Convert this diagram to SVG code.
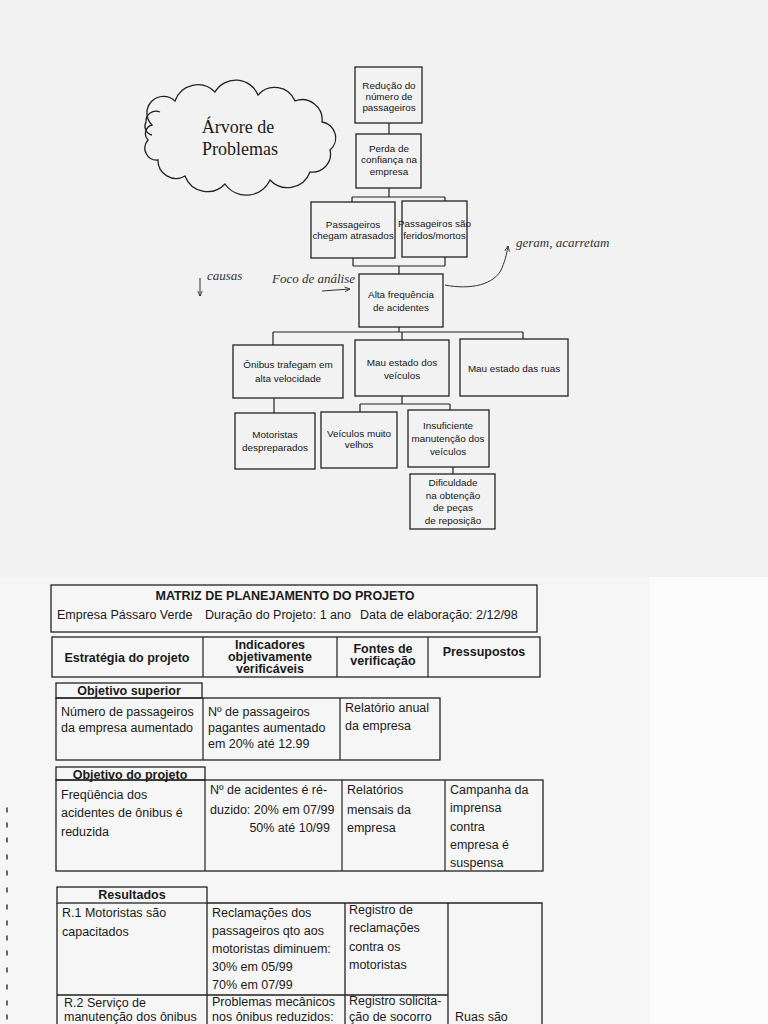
<svg xmlns="http://www.w3.org/2000/svg" width="768" height="1024" viewBox="0 0 768 1024">
<style>
.bx{fill:none;stroke:#222;stroke-width:1.3}
.ln{fill:none;stroke:#222;stroke-width:1.2}
.t{font-family:"Liberation Sans",Arial,sans-serif;font-size:9.9px;fill:#161616;text-anchor:middle}
.tb{font-family:"Liberation Sans",Arial,sans-serif;font-size:12.5px;fill:#1a1a1a}
.hb{font-family:"Liberation Sans",Arial,sans-serif;font-size:12.5px;font-weight:bold;fill:#1a1a1a;text-anchor:middle}
.hw{font-family:"Liberation Serif","DejaVu Serif",serif;font-style:italic;font-size:13px;fill:#333}
.hwl{fill:none;stroke:#333;stroke-width:1}
.cl{font-family:"Liberation Serif","Times New Roman",serif;font-size:18px;fill:#1a1a1a;text-anchor:middle}
</style>
<defs>
<marker id="ah" viewBox="0 0 10 10" refX="9" refY="5" markerWidth="6" markerHeight="6" orient="auto-start-reverse">
<path d="M0,1 L9,5 L0,9" fill="none" stroke="#333" stroke-width="1.5"/>
</marker>
</defs>
<rect x="0" y="0" width="768" height="1024" fill="#f2f2f2"/>
<rect x="0" y="577" width="768" height="447" fill="#f6f6f6"/>
<rect x="650" y="577" width="118" height="447" fill="#fbfbfb"/>

<!-- cloud -->
<g id="cloud">
<path class="bx" d="M152,125 A16,16 0 0 1 175,101 A24,24 0 0 1 215,92 A24,24 0 0 1 258,95 A22,22 0 0 1 295,101 A20,20 0 0 1 322,122 A16,16 0 0 1 330,150 A18,18 0 0 1 310,172 A24,24 0 0 1 270,180 A26,26 0 0 1 225,184 A24,24 0 0 1 185,176 A18,18 0 0 1 158,160 A12,12 0 0 1 148,140 A9,9 0 0 1 152,125 Z"/>
<path class="bx" d="M160,112 A10,10 0 0 0 146,122 A9,9 0 0 0 152,135"/>
<text class="cl" x="238" y="133">Árvore de</text>
<text class="cl" x="240" y="155">Problemas</text>
</g>

<!-- connectors -->
<g id="connectors">
<path class="ln" d="M389,123 V134"/>
<path class="ln" d="M389,188 V197 M352,197 H445 M352,197 V202 M445,197 V201"/>
<path class="ln" d="M353,258 V266 M445,257 V266 M353,266 H445 M399,266 V274"/>
<path class="ln" d="M399,327 V332 M273,332 H523 M273,332 V345 M402,332 V340 M523,332 V339"/>
<path class="ln" d="M274,398 V413"/>
<path class="ln" d="M402,396 V404 M360,404 H450 M360,404 V412 M450,404 V410"/>
<path class="ln" d="M453,467 V474"/>
</g>

<g id="n1"><rect class="bx" x="355" y="67" width="67" height="56"/>
<text class="t" x="389" y="89">Redução do</text><text class="t" x="389" y="100">número de</text><text class="t" x="389" y="111">passageiros</text></g>
<g id="n2"><rect class="bx" x="356" y="134" width="65" height="54"/>
<text class="t" x="389" y="152">Perda de</text><text class="t" x="389" y="163">confiança na</text><text class="t" x="389" y="175">empresa</text></g>
<g id="n3"><rect class="bx" x="311" y="202" width="84" height="56"/>
<text class="t" x="353" y="228">Passageiros</text><text class="t" x="353" y="239">chegam atrasados</text></g>
<g id="n4"><rect class="bx" x="402" y="201" width="65" height="56"/>
<text class="t" x="434.5" y="227">Passageiros são</text><text class="t" x="434.5" y="239">feridos/mortos</text></g>
<g id="n5"><rect class="bx" x="359" y="274" width="84" height="53"/>
<text class="t" x="401" y="298">Alta frequência</text><text class="t" x="401" y="311">de acidentes</text></g>
<g id="n6"><rect class="bx" x="233" y="345" width="110" height="53"/>
<text class="t" x="288" y="368">Ônibus trafegam em</text><text class="t" x="288" y="382">alta velocidade</text></g>
<g id="n7"><rect class="bx" x="355" y="340" width="94" height="56"/>
<text class="t" x="402" y="366">Mau estado dos</text><text class="t" x="402" y="379">veículos</text></g>
<g id="n8"><rect class="bx" x="460" y="339" width="108" height="57"/>
<text class="t" x="514" y="372">Mau estado das ruas</text></g>
<g id="n9"><rect class="bx" x="235" y="413" width="80" height="56"/>
<text class="t" x="275" y="438">Motoristas</text><text class="t" x="275" y="451">despreparados</text></g>
<g id="n10"><rect class="bx" x="321" y="412" width="76" height="56"/>
<text class="t" x="359" y="437">Veículos muito</text><text class="t" x="359" y="448">velhos</text></g>
<g id="n11"><rect class="bx" x="408" y="410" width="81" height="57"/>
<text class="t" x="448" y="429">Insuficiente</text><text class="t" x="448" y="442">manutenção dos</text><text class="t" x="448" y="455">veículos</text></g>
<g id="n12"><rect class="bx" x="410" y="474" width="85" height="55"/>
<text class="t" x="453" y="486">Dificuldade</text><text class="t" x="453" y="499">na obtenção</text><text class="t" x="453" y="511">de peças</text><text class="t" x="453" y="524">de reposição</text></g>

<!-- handwritten notes -->
<g id="notes">
<path class="hwl" d="M200,278 V296" marker-end="url(#ah)"/>
<text class="hw" x="207" y="280">causas</text>
<text class="hw" x="272" y="283">Foco de análise</text>
<path class="hwl" d="M322,291 L350,289" marker-end="url(#ah)"/>
<path class="hwl" d="M445,285 C470,290 495,285 502,268 C506,258 507,252 508,246" marker-end="url(#ah)"/>
<text class="hw" x="516" y="247">geram, acarretam</text>
</g>

<!-- matrix -->
<g id="title">
<rect class="bx" x="51" y="585" width="486" height="47"/>
<text class="hb" x="285" y="600">MATRIZ DE PLANEJAMENTO DO PROJETO</text>
<text class="tb" x="57" y="619">Empresa Pássaro Verde</text>
<text class="tb" x="205" y="619">Duração do Projeto: 1 ano</text>
<text class="tb" x="360" y="619">Data de elaboração: 2/12/98</text>
</g>
<g id="header">
<rect class="bx" x="52" y="637" width="488" height="40"/>
<path class="ln" d="M203,637 V677 M337,637 V677 M428,637 V677"/>
<text class="hb" x="127" y="662">Estratégia do projeto</text>
<text class="hb" x="270" y="649">Indicadores</text>
<text class="hb" x="270" y="661">objetivamente</text>
<text class="hb" x="270" y="673">verificáveis</text>
<text class="hb" x="383" y="653">Fontes de</text>
<text class="hb" x="383" y="665">verificação</text>
<text class="hb" x="484" y="656">Pressupostos</text>
</g>
<g id="objsup">
<rect class="bx" x="56" y="683" width="146" height="15"/>
<text class="hb" x="129" y="695">Objetivo superior</text>
<rect class="bx" x="56" y="698" width="384" height="62"/>
<path class="ln" d="M203,698 V760 M340,698 V760"/>
<text class="tb" x="61" y="716">Número de passageiros</text>
<text class="tb" x="61" y="732">da empresa aumentado</text>
<text class="tb" x="208" y="716">Nº de passageiros</text>
<text class="tb" x="208" y="732">pagantes aumentado</text>
<text class="tb" x="208" y="748">em 20% até 12.99</text>
<text class="tb" x="345" y="712">Relatório anual</text>
<text class="tb" x="345" y="730">da empresa</text>
</g>
<g id="objproj">
<rect class="bx" x="56" y="767" width="149" height="13"/>
<text class="hb" x="130" y="779">Objetivo do projeto</text>
<rect class="bx" x="56" y="780" width="487" height="91"/>
<path class="ln" d="M205,780 V871 M342,780 V871 M445,780 V871"/>
<text class="tb" x="61" y="799">Freqüência dos</text>
<text class="tb" x="61" y="817">acidentes de ônibus é</text>
<text class="tb" x="61" y="836">reduzida</text>
<text class="tb" x="210" y="794">Nº de acidentes é ré-</text>
<text class="tb" x="210" y="814">duzido: 20% em 07/99</text>
<text class="tb" x="330" y="832" text-anchor="end">50% até 10/99</text>
<text class="tb" x="347" y="794">Relatórios</text>
<text class="tb" x="347" y="814">mensais da</text>
<text class="tb" x="347" y="832">empresa</text>
<text class="tb" x="450" y="794">Campanha da</text>
<text class="tb" x="450" y="812">imprensa</text>
<text class="tb" x="450" y="831">contra</text>
<text class="tb" x="450" y="849">empresa é</text>
<text class="tb" x="450" y="867">suspensa</text>
</g>
<g id="resultados">
<rect class="bx" x="57" y="887" width="150" height="16"/>
<text class="hb" x="132" y="899">Resultados</text>
<path class="bx" d="M57,903 V1030 M207,903 H542 V1030 M207,903 V1030 M345,903 V1030 M448,903 V1030 M57,995 H448"/>
<text class="tb" x="62" y="917">R.1 Motoristas são</text>
<text class="tb" x="62" y="936">capacitados</text>
<text class="tb" x="212" y="917">Reclamações dos</text>
<text class="tb" x="212" y="935">passageiros qto aos</text>
<text class="tb" x="212" y="953">motoristas diminuem:</text>
<text class="tb" x="212" y="971">30% em 05/99</text>
<text class="tb" x="212" y="989">70% em 07/99</text>
<text class="tb" x="349" y="914">Registro de</text>
<text class="tb" x="349" y="932">reclamações</text>
<text class="tb" x="349" y="951">contra os</text>
<text class="tb" x="349" y="969">motoristas</text>
<text class="tb" x="64" y="1007">R.2 Serviço de</text>
<text class="tb" x="64" y="1021">manutenção dos ônibus</text>
<text class="tb" x="212" y="1006">Problemas mecânicos</text>
<text class="tb" x="212" y="1021">nos ônibus reduzidos:</text>
<text class="tb" x="349" y="1005">Registro solicita-</text>
<text class="tb" x="349" y="1021">ção de socorro</text>
<text class="tb" x="455" y="1021">Ruas são</text>
</g>
<g id="marks" stroke="#444" stroke-width="1.6" stroke-linecap="round">
<path d="M7,808 v4 M7,823 v4 M7,838 v4 M7,855 v4 M7,871 v4 M7,888 v4 M7,905 v4 M7,921 v4 M7,936 v4 M7,951 v4 M7,968 v4 M7,985 v4 M7,1001 v4 M7,1015 v4"/>
</g>
</svg>
